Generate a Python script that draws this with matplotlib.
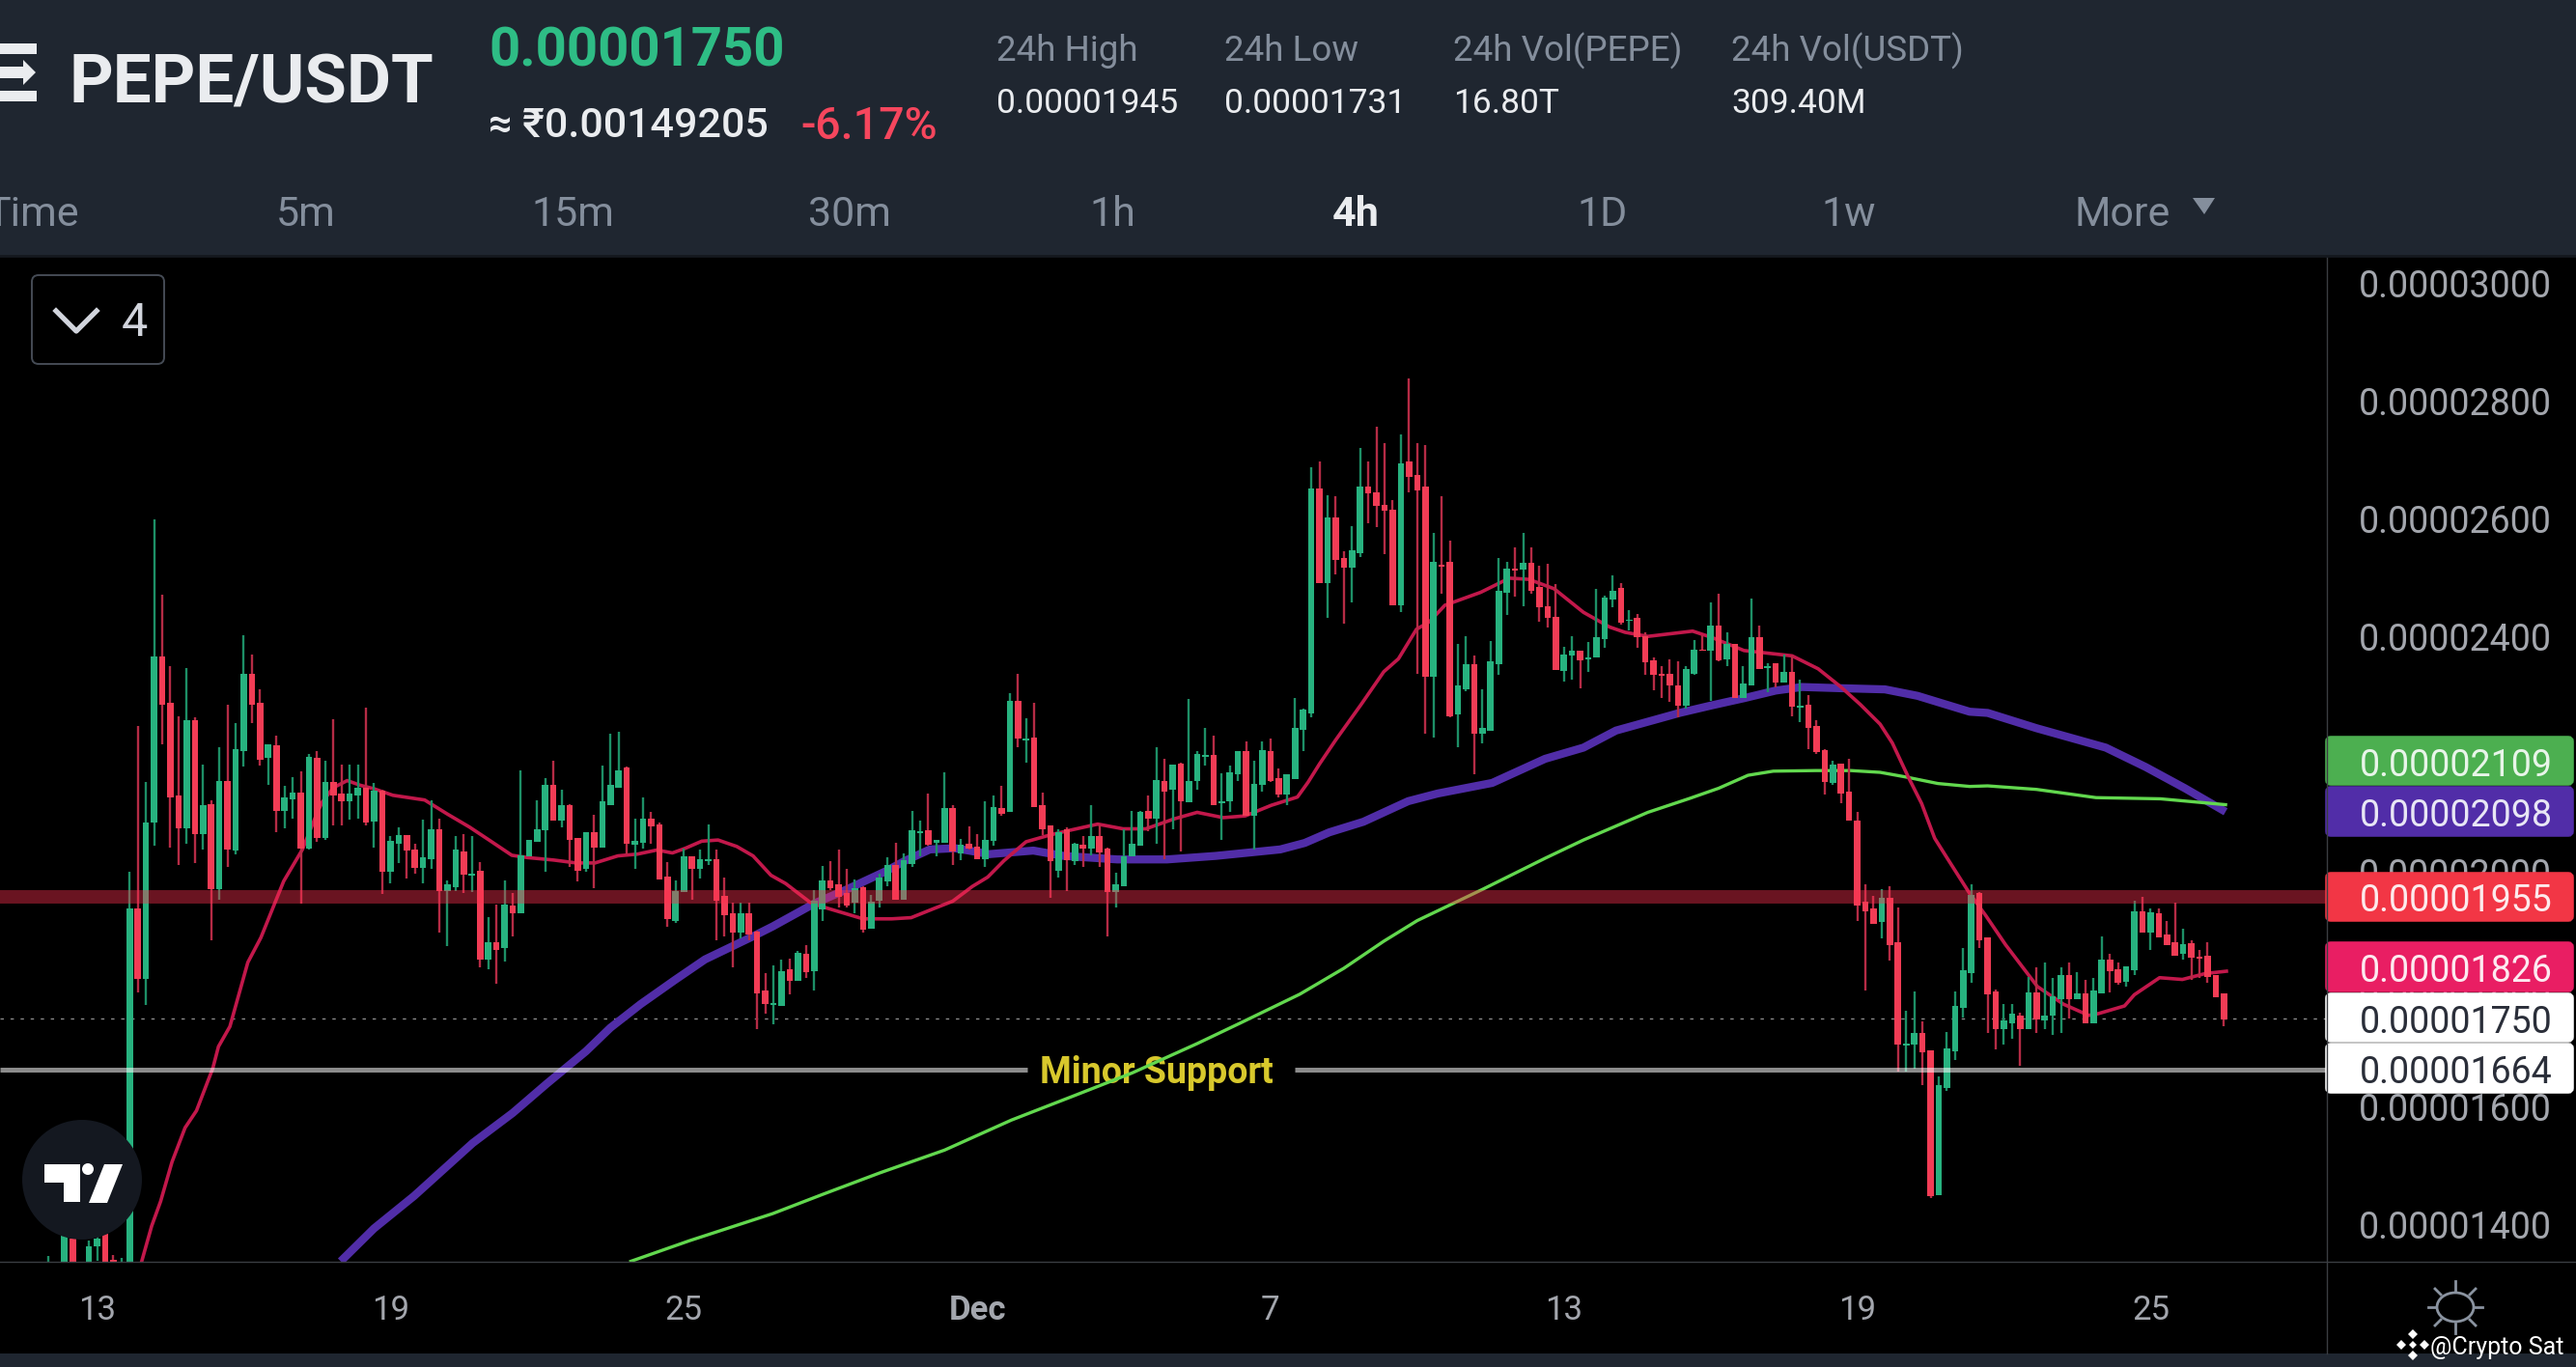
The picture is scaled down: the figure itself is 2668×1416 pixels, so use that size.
import matplotlib
matplotlib.use("Agg")
import matplotlib.pyplot as plt
from matplotlib.patches import Rectangle, FancyBboxPatch, Ellipse, Polygon, Circle

plt.rcParams['font.family'] = ['Roboto', 'DejaVu Sans']

# ---- candle data (prices in 1e-8 USDT), first bar index is -10 ----
first_bar = -10
candle_dir = ("GRGRGGGRRG" "GRGGRRRGRG" "RGRGGRRGRG" "GRGRGRRGGR" "GRGGRRGGRG" "GRGRGRGRGG"
              "GGRGRRGRGG" "GRGGRRRGGR" "GGRRRGRRRG" "GRGRGGRRRG" "RGGGRGGGRG" "GRGRRGGRGR"
              "GRRRGRGRGR" "RGGGGRGRGR" "GGGRGGGRGG" "RRGGGGRGRR" "GGRRRRGRRR" "GRRGGRGGGG"
              "RGRRRRGGRG" "GGGRGRRRRR" "RGGRGRGRGG" "RGRGRGRRRG" "RRRRRGRRGG" "RRGGGGGRRR"
              "GGRGRGGGRG" "RGGRRGGRGR" "RRGRRRRR")
body_top = [1335,1330,1381,1377,1325,1364,1377,1385,1340,1335,
    1938,1938,2083,2366,2366,2287,2129,2258,2258,2114,
    2115,2154,2154,2208,2337,2337,2287,2217,2215,2126,
    2134,2134,2195,2193,2153,2153,2133,2133,2143,2143,
    2138,2138,2052,2062,2062,2037,2025,2072,2072,1979,
    2038,2035,1997,2002,1880,1880,1944,1943,2028,2054,
    2073,2147,2147,2113,2114,2057,2067,2068,2120,2147,
    2172,2177,2053,2090,2090,2081,1992,1968,2026,2026,
    2021,2021,2021,1959,1929,1929,1929,1898,1798,1777,
    1831,1834,1863,1861,1950,1986,1985,1978,1964,1972,
    1973,1949,1991,2011,2011,2019,2071,2069,2071,2055,
    2108,2109,2046,2047,2043,2054,2110,2109,2291,2291,
    2226,2228,2113,2078,2068,2073,2048,2046,2061,2061,
    2039,1979,2027,2048,2102,2103,2156,2155,2182,2183,
    2155,2200,2198,2199,2120,2169,2205,2205,2150,2206,
    2205,2160,2165,2244,2275,2651,2651,2602,2602,2533,
    2546,2655,2654,2645,2624,2615,2694,2697,2674,2655,
    2526,2522,2526,2317,2353,2353,2244,2357,2478,2516,
    2515,2525,2525,2484,2451,2434,2370,2376,2376,2364,
    2398,2466,2478,2482,2429,2432,2400,2360,2336,2336,
    2317,2345,2378,2378,2418,2418,2387,2387,2320,2399,
    2399,2350,2354,2339,2339,2282,2284,2248,2207,2182,
    2183,2136,2087,1949,1937,1955,1956,1880,1708,1726,
    1726,1696,1638,1700,1772,1832,1961,1964,1888,1796,
    1747,1759,1756,1795,1795,1756,1788,1824,1824,1794,
    1794,1798,1851,1851,1834,1839,1933,1933,1931,1930,
    1893,1880,1877,1878,1856,1857,1824,1793]
body_bot = [1300,1300,1300,1300,1300,1300,1363,1300,1300,1300,
    1320,1818,1818,2083,2284,2126,2074,2074,2064,2064,
    1971,1971,2037,2036,2205,2284,2191,2193,2103,2103,
    2123,2040,2040,2057,2057,2129,2120,2120,2129,2084,
    2086,2000,2000,2048,2036,2007,2007,2021,1968,1968,
    1974,1995,1997,1851,1851,1867,1870,1929,1930,2027,
    2051,2071,2087,2087,2054,2002,2005,2041,2041,2113,
    2143,2048,2046,2050,2077,1987,1919,1917,1965,2005,
    2005,2021,1950,1926,1897,1896,1893,1794,1775,1777,
    1772,1815,1815,1830,1831,1936,1972,1958,1943,1947,
    1901,1904,1950,1984,1953,1953,2013,2069,2046,2049,
    2049,2035,2031,2040,2022,2022,2053,2098,2102,2226,
    2226,2110,2073,2018,2001,2019,2018,2040,2040,2033,
    1966,1966,1975,2027,2044,2091,2090,2136,2139,2120,
    2118,2155,2198,2114,2120,2120,2165,2095,2096,2147,
    2155,2132,2132,2158,2241,2269,2491,2491,2530,2517,
    2517,2542,2643,2622,2613,2453,2453,2671,2648,2331,
    2331,2522,2265,2268,2310,2235,2235,2240,2353,2474,
    2515,2514,2478,2449,2432,2343,2342,2367,2360,2364,
    2364,2396,2462,2424,2429,2399,2356,2334,2336,2317,
    2283,2283,2337,2375,2376,2359,2361,2295,2295,2317,
    2345,2350,2321,2321,2281,2282,2244,2204,2153,2151,
    2133,2087,1942,1933,1912,1915,1876,1707,1708,1707,
    1693,1448,1451,1633,1695,1768,1827,1883,1792,1733,
    1733,1742,1733,1733,1749,1748,1755,1783,1783,1783,
    1743,1743,1794,1831,1812,1813,1833,1896,1896,1889,
    1875,1858,1860,1854,1856,1822,1787,1749]
wick_high = [1347,1335,1385,1380,1330,1373,1381,1395,1348,1344,
    2000,2247,2153,2599,2471,2350,2264,2346,2262,2182,
    2122,2211,2284,2253,2402,2369,2310,2217,2232,2146,
    2161,2171,2201,2205,2189,2260,2182,2182,2182,2279,
    2151,2140,2061,2076,2063,2047,2088,2122,2090,1986,
    2060,2064,2061,2017,1923,1945,1985,1964,2172,2054,
    2122,2159,2188,2139,2115,2057,2068,2097,2181,2235,
    2238,2179,2090,2126,2101,2084,2017,1985,2040,2026,
    2038,2080,2038,1991,1947,1947,1947,1900,1827,1841,
    1851,1853,1865,1876,1969,2010,2018,2038,2005,1987,
    1975,1961,1997,2024,2050,2031,2103,2087,2133,2055,
    2169,2113,2056,2077,2064,2120,2130,2146,2303,2336,
    2261,2287,2135,2079,2073,2076,2049,2061,2113,2080,
    2041,1998,2072,2103,2103,2129,2212,2192,2182,2186,
    2293,2205,2244,2231,2167,2181,2205,2221,2189,2221,
    2227,2175,2165,2296,2277,2687,2697,2640,2638,2545,
    2588,2720,2697,2756,2729,2631,2743,2838,2729,2726,
    2576,2638,2563,2388,2401,2368,2310,2392,2533,2527,
    2552,2576,2552,2520,2523,2489,2382,2401,2376,2391,
    2481,2469,2503,2490,2444,2438,2407,2364,2349,2361,
    2358,2350,2394,2402,2458,2473,2407,2388,2349,2464,
    2418,2354,2354,2369,2367,2326,2301,2257,2208,2188,
    2184,2192,2101,1978,1959,1970,1975,1939,1764,1797,
    1746,1696,1653,1728,1797,1871,1978,1966,1888,1800,
    1775,1775,1760,1822,1838,1846,1820,1837,1846,1830,
    1817,1820,1890,1860,1846,1839,1951,1958,1938,1938,
    1916,1947,1904,1883,1867,1880,1824,1793]
wick_low = [1290,1290,1290,1290,1290,1290,1339,1290,1290,1290,
    1300,1795,1773,2045,2217,2041,2012,2047,2015,2037,
    1883,1952,2008,2029,2179,2252,2180,2147,2068,2074,
    2090,1946,2038,2051,2055,2078,2078,2088,2091,2078,
    2041,1963,1980,2015,1988,1996,1980,2005,1897,1874,
    1968,1964,1965,1838,1835,1809,1848,1890,1930,2027,
    2051,2000,2087,2075,2009,1983,2000,1972,2041,2113,
    2143,2030,2005,2040,2048,1987,1906,1913,1965,1952,
    1988,2011,1883,1890,1838,1887,1883,1733,1759,1740,
    1772,1792,1815,1819,1798,1917,1969,1940,1940,1929,
    1897,1904,1940,1976,1953,1953,2009,2027,2044,2026,
    2049,2011,2019,2038,2021,2009,2044,2095,2102,2212,
    2185,2110,2062,1956,1990,1967,2012,2008,2028,2009,
    1890,1940,1975,2027,2044,2069,2048,2022,2073,2035,
    2118,2139,2180,2114,2054,2101,2154,2095,2037,2137,
    2152,2127,2114,2158,2205,2262,2491,2432,2505,2422,
    2458,2535,2593,2586,2540,2453,2442,2645,2337,2235,
    2228,2472,2263,2211,2307,2165,2219,2240,2334,2436,
    2468,2451,2472,2425,2415,2343,2323,2326,2311,2339,
    2364,2380,2449,2420,2411,2380,2334,2308,2295,2288,
    2262,2277,2334,2375,2290,2358,2350,2295,2295,2317,
    2345,2306,2314,2321,2265,2255,2209,2200,2131,2147,
    2117,2087,1917,1799,1912,1887,1849,1661,1661,1665,
    1638,1445,1451,1627,1680,1752,1812,1871,1726,1698,
    1707,1717,1670,1733,1726,1733,1723,1726,1750,1783,
    1743,1743,1794,1795,1808,1805,1824,1896,1867,1889,
    1875,1858,1851,1816,1819,1812,1787,1737]

# ---- moving averages: bar index / value ----
ma_red_bar = [1.5,2.7,3.8,5.2,6.8,8.2,10.2,10.9,12.3,14.5,16.1,18.9,21.2,22.8,23.6,25,26.7,28.3,30,32.3,36.2,
    39,41.7,44.1,46.9,48.9,52,54.8,57.1,59.9,62.3,64.7,66.6,68.2,70.2,72.2,74.5,76.5,78.7,80.5,83.6,
    85.4,90,93.5,95.9,98.6,101,103.4,105.3,107.3,110,112.8,115.2,118.8,121.9,124.7,128.2,131,
    134.2,136.9,140.1,143.3,144.6,146,148,151.1,153.9,155.7,157.9,159.5,161.4,165.8,167.7,169.3,171.7,174.8,178.4,
    181.6,183.5,186.3,191.8,194.2,198.1,204,207.2,210,212.4,214.8,216.3,218.3,219.9,221.5,223,225.8,
    227.8,230.2,234.1,237.3,240.4,241.6,244.8,246,249.1,251.9,254.7,257.3]
ma_red_val = [1339,1398,1440,1507,1565,1594,1666,1703,1737,1846,1888,1984,2038,2093,2118,2143,2155,2147,2141,2130,2122,
    2098,2076,2054,2028,2024,2020,2015,2015,2027,2030,2037,2032,2040,2052,2054,2043,2027,1994,1980,1947,
    1939,1920,1920,1922,1937,1950,1975,1991,2019,2051,2062,2070,2081,2073,2073,2090,2101,
    2092,2095,2113,2127,2152,2183,2224,2284,2340,2362,2412,2425,2453,2475,2488,2499,2497,2481,2441,
    2416,2407,2400,2409,2398,2376,2367,2345,2314,2284,2251,2219,2160,2116,2057,2024,1963,
    1925,1876,1805,1775,1756,1759,1772,1791,1820,1817,1827,1831]
ma_purple_bar = [25.9,30,34.9,42.1,47,51.2,56,59,62.7,66.9,70.6,76.6,78.9,84,88,92.8,95.2,98.2,101.3,105.5,110.9,114.6,
    121.2,127.3,133.3,141.2,144.2,147.2,151.4,156.9,160.5,167.2,173.7,178.4,182.4,186.3,190.2,194.2,198.1,202,205.2,
    209.9,215.4,219.4,222,225.8,228,234,242.5,247.4,252.2,257.2]
ma_purple_val = [1338,1394,1449,1539,1590,1640,1695,1735,1775,1816,1851,1891,1907,1946,1970,2001,2019,2038,2040,2030,2036,2027,
    2021,2021,2027,2038,2049,2067,2085,2120,2133,2151,2192,2211,2240,2255,2270,2283,2295,2308,2314,
    2312,2310,2299,2288,2272,2270,2244,2211,2178,2142,2102]
ma_green_bar = [61.5,68.7,78.9,84.9,92,100,108.2,116,123,131,136.3,143.6,149,153.9,158,166,173.7,178.4,181.6,186.3,191.5,195,
    198.6,201.7,206.9,211.2,214.8,218,221.9,225.8,228,234,241.3,249.2,257.2]
ma_green_val = [1338,1373,1419,1451,1488,1527,1578,1620,1658,1708,1743,1792,1836,1882,1917,1970,2023,2054,2073,2101,2125,2142,
    2164,2171,2172,2172,2169,2161,2150,2145,2146,2140,2126,2124,2114]

support_levels = [1957, 1664]
last_price = 1750
support_label = "Minor Support"

price_ticks = [3000, 2800, 2600, 2400, 2200, 2000, 1800, 1600, 1400]
date_tick_bars = [-4, 32, 68, 104, 140, 176, 212, 248]
date_tick_labels = ["13", "19", "25", "Dec", "7", "13", "19", "25"]

tag_labels = ["0.00002109", "0.00002098", "0.00001955", "0.00001826", "0.00001750", "0.00001664"]
tag_fills = ["#4caf50", "#512da8", "#f23645", "#e91e63", "#ffffff", "#ffffff"]
tag_text = ["#e8f5e9", "#e8e6f5", "#fdeaec", "#fdeaf0", "#2a2e39", "#2a2e39"]

timeframes = ["5m", "15m", "30m", "1h", "4h", "1D", "1w", "More"]
stat_names = ["24h High", "24h Low", "24h Vol(PEPE)", "24h Vol(USDT)"]
stat_values = ["0.00001945", "0.00001731", "16.80T", "309.40M"]

# ---- layout ----
W, H = 2668, 1416
BG = "#1f2630"
GREY = "#848e9c"
fig = plt.figure(figsize=(W / 100, H / 100), dpi=100, facecolor="black")
ax = fig.add_axes([0, 1 - 1307 / H, 2410 / W, (1307 - 265) / H], facecolor="black")
ax.set_xlim((0 - 134.3) / 8.44, (2410 - 134.3) / 8.44)
ax.set_ylim(1337.2, 3046.8)
for s in ax.spines.values():
    s.set_visible(False)

# moving averages sit behind the candles
ax.plot(ma_purple_bar, ma_purple_val, color="#512da8", lw=6.0, zorder=2, solid_capstyle="butt")
ax.plot(ma_green_bar, ma_green_val, color="#62d84e", lw=2.4, zorder=2.1)
ax.plot(ma_red_bar, ma_red_val, color="#c2184b", lw=2.6, zorder=2.2)
ax.axhline(last_price, color="#8a8a8a", lw=1.0, ls=(0, (2.5, 5)), zorder=1)

UP, DOWN = "#27b27f", "#f23c55"
UPW, DOWNW = "#1d8f66", "#b52b45"
for k, d in enumerate(candle_dir):
    x = first_bar + k
    top, bot = body_top[k], body_bot[k]
    hi, lo = max(wick_high[k], top), min(wick_low[k], bot)
    ax.plot([x, x], [lo, hi], color=UPW if d == "G" else DOWNW, lw=1.7, zorder=3, solid_capstyle="butt")
    h = max(top - bot, 3)
    ax.bar(x, h, 0.78, bottom=top - h, color=UP if d == "G" else DOWN, linewidth=0, zorder=4)

# levels
ax.axhline(support_levels[0], color="#ff3250", alpha=0.42, lw=10, zorder=5, solid_capstyle="butt")
gap_left, gap_right = (1064 - 134.3) / 8.44, (1341 - 134.3) / 8.44
ax.hlines(support_levels[1], ax.get_xlim()[0], gap_left, color="white", alpha=0.55, lw=3.6, zorder=5)
ax.hlines(support_levels[1], gap_right, ax.get_xlim()[1], color="white", alpha=0.55, lw=3.6, zorder=5)
ax.text((gap_left + gap_right) / 2 - 0.6, support_levels[1], support_label, color="#d8c82c", fontsize=27,
        fontweight="bold", ha="center", va="center_baseline", zorder=1.5)

# scales
ax.yaxis.tick_right()
ax.set_yticks(price_ticks)
ax.set_yticklabels([f"{p * 1e-8:.8f}" for p in price_ticks], color="#a3a6ad", fontsize=27)
ax.tick_params(axis="y", length=0, pad=24)
ax.set_xticks(date_tick_bars)
ax.set_xticklabels(date_tick_labels, color="#a3a6ad", fontsize=25)
ax.tick_params(axis="x", length=0, pad=24.5)
ax.get_xticklabels()[3].set_fontweight("bold")

# ---- interface overlay in pixel coordinates ----
ui = fig.add_axes([0, 0, 1, 1], facecolor="none", zorder=10)
ui.set_xlim(0, W)
ui.set_ylim(H, 0)
ui.axis("off")

ui.add_patch(Rectangle((0, 0), W, 265, color=BG, lw=0))
ui.add_patch(Rectangle((0, 1402), W, 14, color=BG, lw=0))
ui.plot([0, W], [1307, 1307], color="#3a3d42", lw=1)
ui.plot([2410, 2410], [265, 1402], color="#3a3d42", lw=1)

# price tags
tag_edges = [(762, 814), (814, 867), (903, 955), (975, 1028), (1028, 1080), (1080, 1133)]
for label, fill, tc, (t, b) in zip(tag_labels, tag_fills, tag_text, tag_edges):
    ui.add_patch(FancyBboxPatch((2411, t + 3), 252, b - t - 6, boxstyle="round,pad=0,rounding_size=3",
                                mutation_aspect=1, fc=fill, ec=fill, lw=4))
    ui.text(2444, (t + b) / 2 + 1, label, color=tc, fontsize=27, va="center_baseline", ha="left")

# header
ui.add_patch(Rectangle((0, 45), 38, 11, color="#eaecef", lw=0))
ui.add_patch(Rectangle((0, 94), 38, 11, color="#eaecef", lw=0))
ui.add_patch(Polygon([(0, 69), (24, 69), (24, 62), (37, 75), (24, 88), (24, 81), (0, 81)], color="#eaecef", lw=0))
ui.text(71, 80, "PEPE/USDT", color="#eaecef", fontsize=51, fontweight="bold", va="center_baseline")
ui.text(506, 48, "0.00001750", color="#2ebd85", fontsize=40.5, fontweight="bold", va="center_baseline")
ui.text(506, 126, "≈ ₹0.00149205", color="#eaecef", fontsize=31, fontweight="medium", va="center_baseline")
ui.text(829, 126, "-6.17%", color="#f6465d", fontsize=33.5, fontweight="medium", va="center_baseline")
for x0, n, v in zip([1032, 1268, 1505, 1793], stat_names, stat_values):
    ui.text(x0, 49, n, color=GREY, fontsize=26.5, va="center_baseline")
    ui.text(x0, 104, v, color="#eaecef", fontsize=25.5, va="center_baseline")

ui.text(83, 218, "Time", color=GREY, fontsize=31, ha="right", va="center_baseline")
for cx, tf in zip([317, 593, 880, 1152, 1404, 1660, 1915, 2198], timeframes):
    active = tf == "4h"
    ui.text(cx, 218, tf, color="#eaecef" if active else GREY, fontsize=31,
            fontweight="bold" if active else "normal", ha="center", va="center_baseline")
ui.add_patch(Polygon([(2271, 205), (2294, 205), (2283, 222)], color=GREY, lw=0))
ui.plot([0, W], [265, 265], color="#14181e", lw=2)

# collapsed-indicators button
ui.add_patch(FancyBboxPatch((33, 285), 137, 92, boxstyle="round,pad=0,rounding_size=7", fc="black", ec="#454b55", lw=1.4))
ui.plot([58, 79, 100], [322, 343, 322], color="#d1d4dc", lw=3.8)
ui.text(139, 330, "4", color="#d1d4dc", fontsize=35, ha="center", va="center_baseline")

# TradingView mark
ui.add_patch(Circle((85, 1222), 62, color="#141820", lw=0, zorder=6))
ui.add_patch(Polygon([(46, 1206), (83, 1206), (83, 1245), (66, 1245), (66, 1225), (46, 1225)], color="white", lw=0, zorder=7))
ui.add_patch(Polygon([(108, 1206), (127, 1206), (111, 1246), (92, 1246)], color="white", lw=0, zorder=7))
ui.add_patch(Circle((91, 1211), 6, color="white", lw=0, zorder=7))

# sun icon
ui.add_patch(Ellipse((2543, 1354), 38, 30, fc="none", ec="#8a93a0", lw=2))
for dx0, dy0, dx1, dy1 in [(-28, 0, -20, 0), (20, 0, 28, 0), (0, -27, 0, -17), (0, 17, 0, 27),
                           (-21, -19, -15, -13), (15, -13, 21, -19), (-21, 19, -15, 13), (15, 13, 21, 19)]:
    ui.plot([2543 + dx0, 2543 + dx1], [1354 + dy0, 1354 + dy1], color="#8a93a0", lw=2)

# watermark
ui.text(2517, 1393, "@Crypto Sat", color="white", fontsize=18, va="center_baseline")
for cx, cy, r in [(2499, 1382, 5), (2499, 1404, 5), (2487, 1393, 5), (2511, 1393, 5), (2499, 1393, 4)]:
    ui.add_patch(Polygon([(cx - r, cy), (cx, cy - r), (cx + r, cy), (cx, cy + r)], color="white", lw=0))

fig.savefig("out.png", dpi=100, facecolor="black")
